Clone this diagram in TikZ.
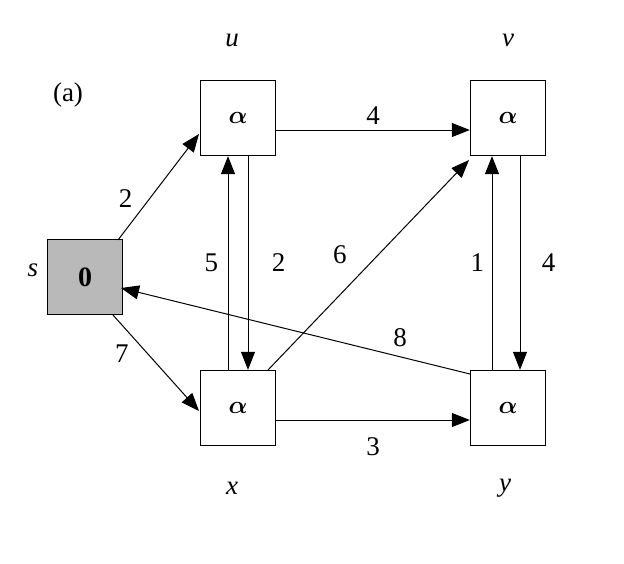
\documentclass[tikz,border=0pt]{standalone}
\usepackage{amsmath,bm}
\usepackage{fontspec}
\setmainfont{Liberation Serif}
\usetikzlibrary{arrows.meta}
\begin{document}
\begin{tikzpicture}[x=1pt,y=-1pt,
  box/.style={draw,line width=1.3pt,minimum size=75pt,inner sep=0pt,font=\fontsize{28}{28}\selectfont\bfseries},
  lab/.style={font=\fontsize{27}{27}\selectfont\itshape},
  num/.style={font=\fontsize{27}{27}\selectfont},
  ar/.style={line width=1pt,-{Triangle[length=18pt,width=14pt]}}]
\useasboundingbox (0,0) rectangle (624,563);
\node[box,fill=gray!55] (s) at (85,277) {0};
\node[box] (u) at (238,118) {$\bm{\alpha}$};
\node[box] (v) at (508,118) {$\bm{\alpha}$};
\node[box] (x) at (238,408) {$\bm{\alpha}$};
\node[box] (y) at (508,408) {$\bm{\alpha}$};
\node[lab] (ls) at (33,270) {s};
\node[lab] (lu) at (232,40) {u};
\node[lab] (lv) at (508,40) {v};
\node[lab] (lx) at (232,488) {x};
\node[lab] (ly) at (505,488) {y};
\node[num] (la) at (68,95) {(a)};
\coordinate (su1) at (118,240); \coordinate (su2) at (199,134);
\draw[ar] (su1) -- (su2) node[num,pos=0.25,above left=2pt] {2};
\coordinate (sx1) at (113,315); \coordinate (sx2) at (199,411);
\draw[ar] (sx1) -- (sx2) node[num,pos=0.25,below left=2pt] {7};
\draw[ar] (u.east |- 0,130) -- (v.west |- 0,130) node[num,midway,above=2pt] {4};
\draw[ar] (x.east |- 0,420) -- (y.west |- 0,420) node[num,midway,below=14pt] {3};
\draw[ar] (x.north -| 228,0) -- (u.south -| 228,0) node[num,midway,left=6pt] {5};
\draw[ar] (u.south -| 248,0) -- (x.north -| 248,0) node[num,midway,right=20pt] {2};
\coordinate (xv1) at (268,370); \coordinate (xv2) at (469,160);
\draw[ar] (xv1) -- (xv2) node[num,pos=0.45,above left=8pt] {6};
\draw[ar] (y.north -| 492,0) -- (v.south -| 492,0) node[num,midway,left=4pt] {1};
\draw[ar] (v.south -| 520,0) -- (y.north -| 520,0) node[num,midway,right=18pt] {4};
\coordinate (ys1) at (470,374); \coordinate (ys2) at (121,288);
\draw[ar] (ys1) -- (ys2) node[num,pos=0.2,above=6pt] {8};
\end{tikzpicture}
\end{document}
